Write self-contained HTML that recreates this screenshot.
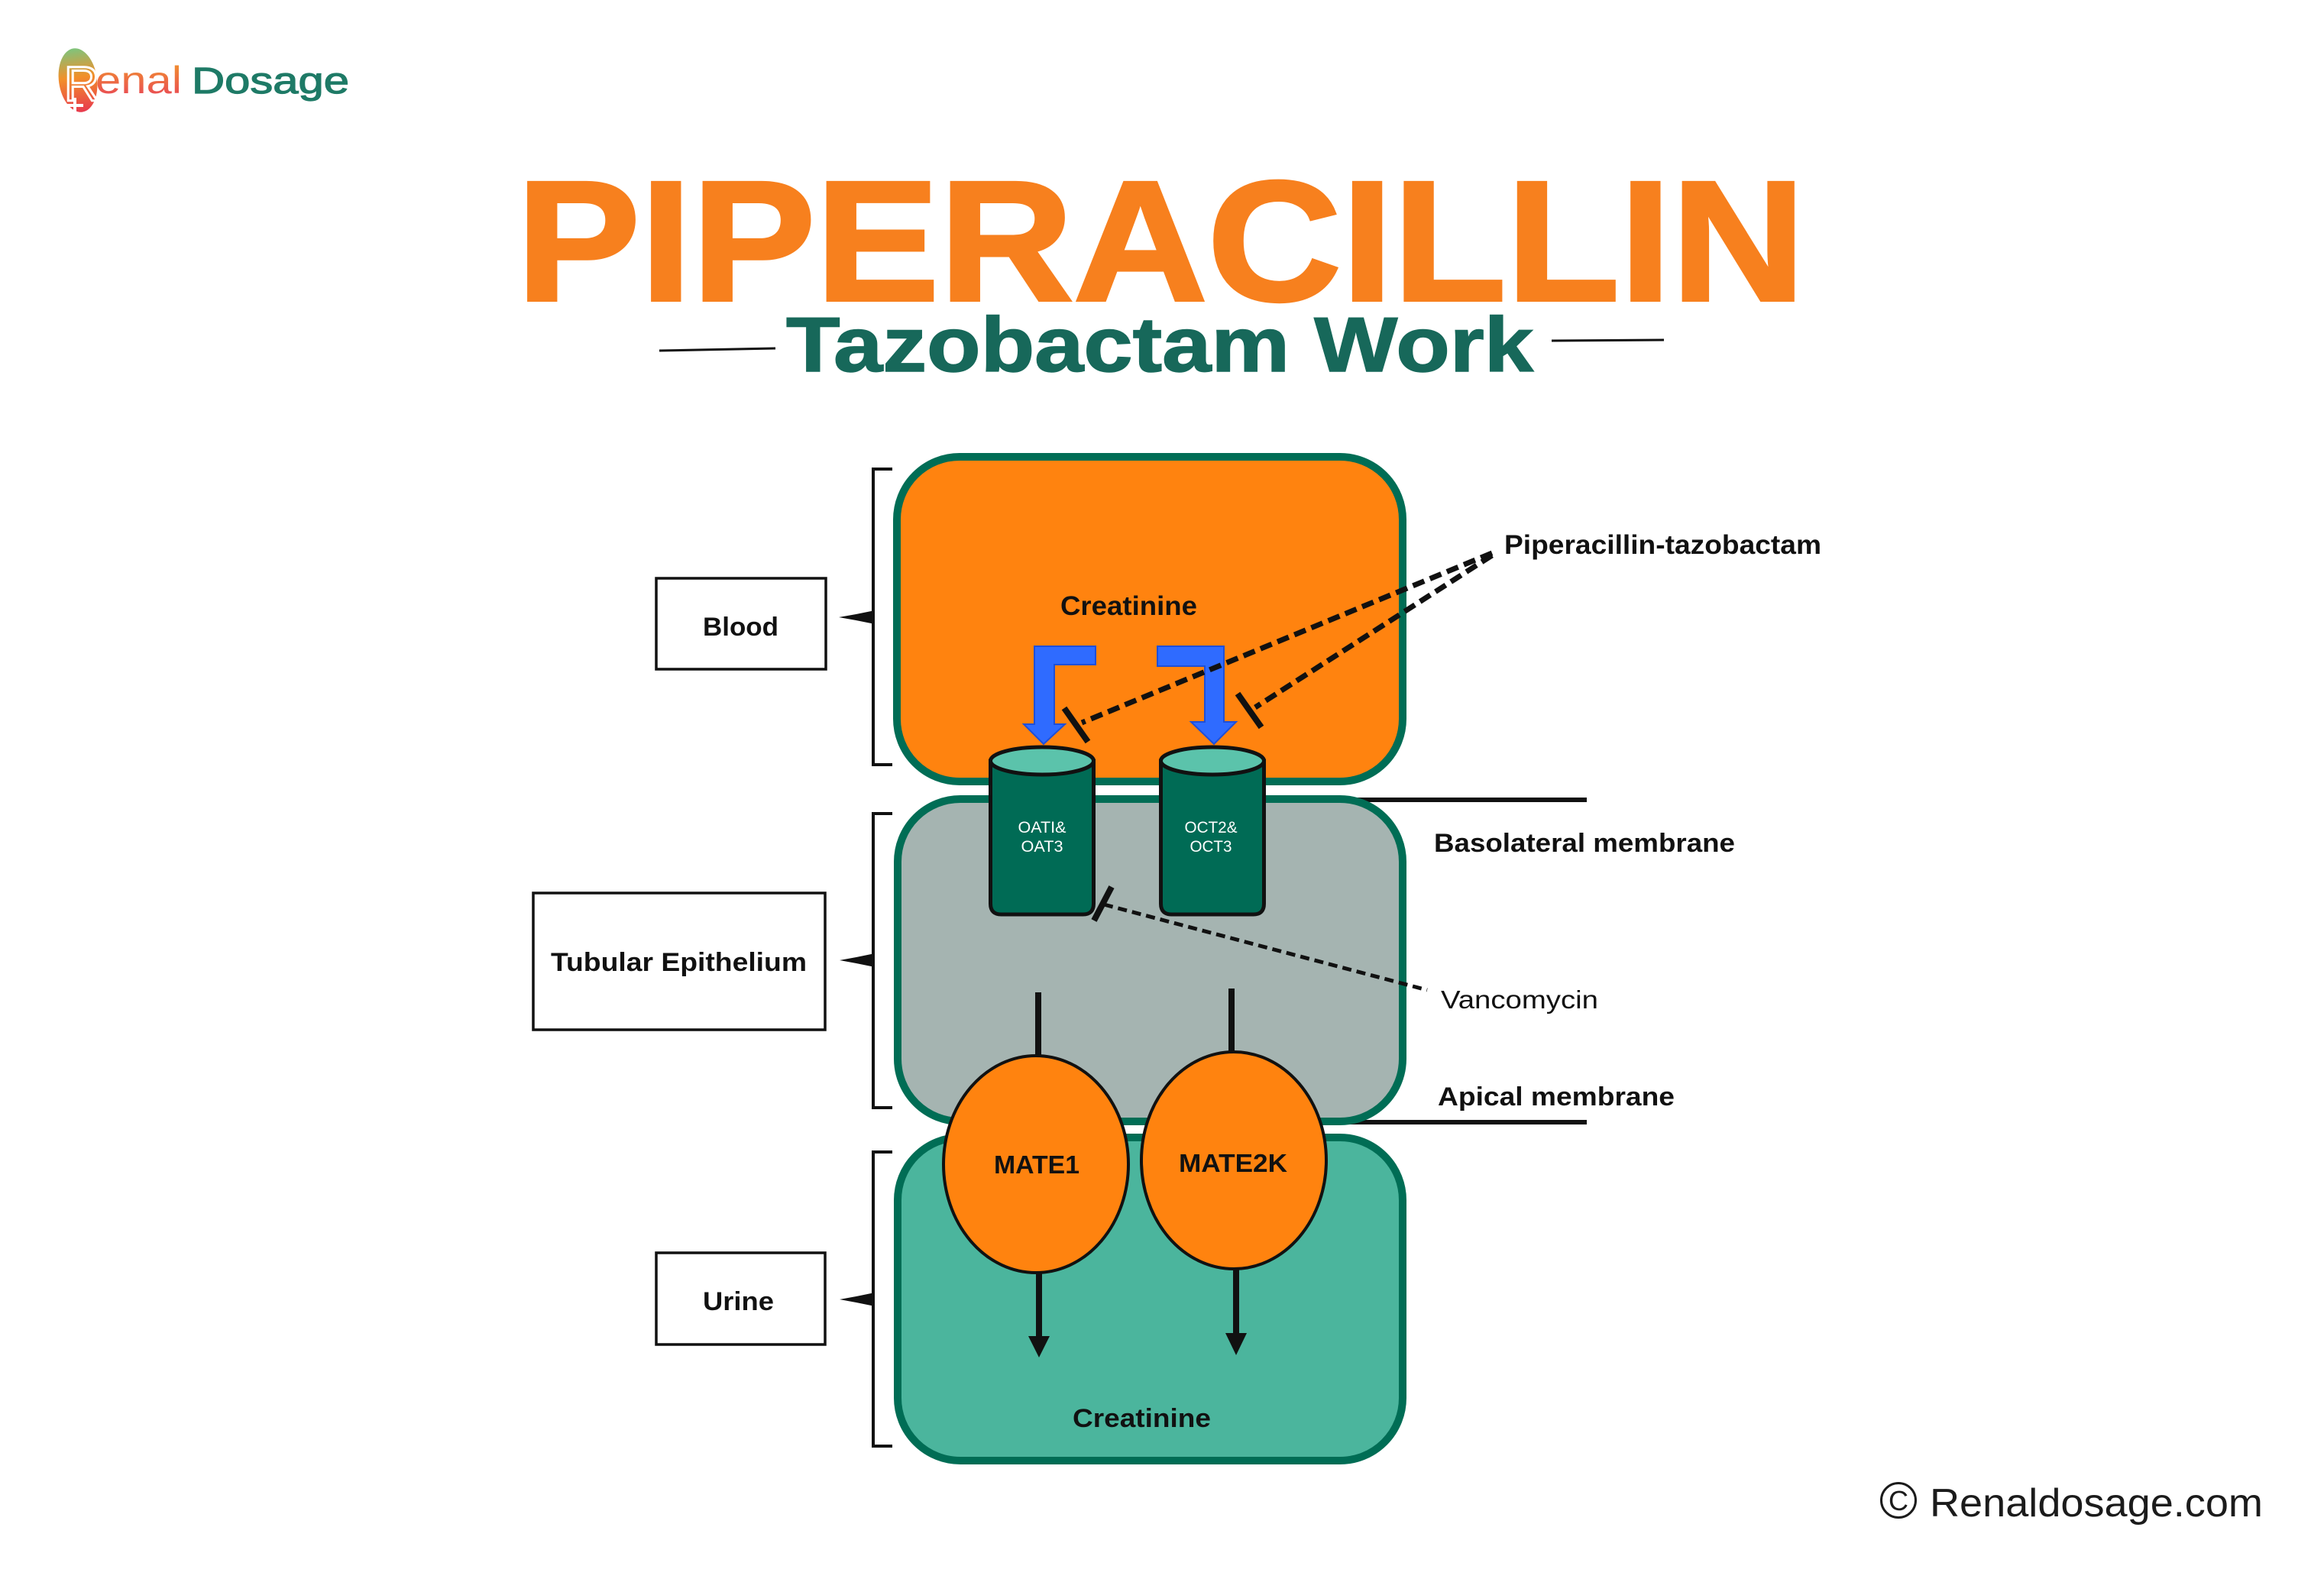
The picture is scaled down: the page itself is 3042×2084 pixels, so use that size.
<!DOCTYPE html>
<html>
<head>
<meta charset="utf-8">
<style>
  html, body { margin:0; padding:0; background:#ffffff; }
  body { width:3042px; height:2084px; overflow:hidden; }
  svg { display:block; }
  text { font-family: "Liberation Sans", "DejaVu Sans", sans-serif; }
</style>
</head>
<body>
<svg width="3042" height="2084" viewBox="0 0 3042 2084" xmlns="http://www.w3.org/2000/svg">
  <defs>
    <linearGradient id="ovalGrad" x1="0" y1="0" x2="0" y2="1">
      <stop offset="0" stop-color="#7FC47C"/>
      <stop offset="0.45" stop-color="#F2902A"/>
      <stop offset="1" stop-color="#E83A4E"/>
    </linearGradient>
    <linearGradient id="enalGrad" x1="0" y1="0" x2="0" y2="1">
      <stop offset="0" stop-color="#F29A2A"/>
      <stop offset="1" stop-color="#E8405A"/>
    </linearGradient>
  </defs>

  <!-- ===== Logo ===== -->
  <ellipse cx="102" cy="105" rx="25" ry="42" transform="rotate(-8 102 105)" fill="url(#ovalGrad)"/>
  <text x="84" y="132" font-size="64" fill="none" stroke="#ffffff" stroke-width="3">R</text>
  <rect x="87" y="136" width="22" height="4" fill="#ffffff"/>
  <rect x="96" y="128" width="4" height="20" fill="#ffffff"/>
  <text x="125" y="122" font-size="50" fill="url(#enalGrad)" textLength="113" lengthAdjust="spacingAndGlyphs">enal</text>
  <text x="251" y="122" font-size="48" fill="#1E7A66" stroke="#1E7A66" stroke-width="1.2" textLength="206" lengthAdjust="spacingAndGlyphs">Dosage</text>

  <!-- ===== Title ===== -->
  <text x="676" y="393" font-size="224" font-weight="bold" fill="#F7801E" stroke="#F7801E" stroke-width="4" textLength="1687" lengthAdjust="spacingAndGlyphs">PIPERACILLIN</text>
  <text x="1029" y="486" font-size="101" font-weight="bold" fill="#17685A" stroke="#17685A" stroke-width="1.5" textLength="978" lengthAdjust="spacingAndGlyphs">Tazobactam Work</text>
  <line x1="863" y1="459" x2="1015" y2="456" stroke="#111" stroke-width="3"/>
  <line x1="2031" y1="446" x2="2178" y2="445" stroke="#111" stroke-width="3"/>

  <!-- ===== Membrane lines (behind boxes) ===== -->
  <line x1="1760" y1="1047" x2="2077" y2="1047" stroke="#111" stroke-width="6"/>
  <line x1="1760" y1="1469" x2="2077" y2="1469" stroke="#111" stroke-width="6"/>

  <!-- ===== Compartment boxes ===== -->
  <rect x="1174" y="598" width="662" height="425" rx="82" ry="82" fill="#FF830F" stroke="#006D55" stroke-width="10"/>
  <rect x="1175" y="1046" width="661" height="422" rx="82" ry="82" fill="#A5B4B1" stroke="#006D55" stroke-width="10"/>
  <rect x="1175" y="1489" width="661" height="423" rx="82" ry="82" fill="#4BB59D" stroke="#006D55" stroke-width="10"/>

  <!-- ===== Brackets ===== -->
  <g stroke="#111" stroke-width="4" fill="none">
    <polyline points="1168,614 1143,614 1143,1001 1168,1001"/>
    <polyline points="1168,1065 1143,1065 1143,1450 1168,1450"/>
    <polyline points="1168,1508 1143,1508 1143,1893 1168,1893"/>
  </g>
  <g fill="#111">
    <path d="M1098,808 Q1122,804 1145,799 L1145,817 Q1122,812 1098,808 Z"/>
    <path d="M1099,1257 Q1122,1253 1145,1248 L1145,1266 Q1122,1261 1099,1257 Z"/>
    <path d="M1099,1701 Q1122,1697 1145,1692 L1145,1710 Q1122,1705 1099,1701 Z"/>
  </g>

  <!-- ===== Label boxes ===== -->
  <g fill="#ffffff" stroke="#111" stroke-width="3.5">
    <rect x="859" y="757" width="222" height="119"/>
    <rect x="698" y="1169" width="382" height="179"/>
    <rect x="859" y="1640" width="221" height="120"/>
  </g>
  <g font-weight="bold" fill="#111" font-size="34">
    <text x="920" y="832" textLength="99" lengthAdjust="spacingAndGlyphs">Blood</text>
    <text x="721" y="1271" textLength="335" lengthAdjust="spacingAndGlyphs">Tubular Epithelium</text>
    <text x="920" y="1715" textLength="93" lengthAdjust="spacingAndGlyphs">Urine</text>
  </g>

  <!-- ===== Creatinine labels ===== -->
  <text x="1388" y="805" font-size="35" font-weight="bold" fill="#111" textLength="179" lengthAdjust="spacingAndGlyphs">Creatinine</text>
  <text x="1404" y="1868" font-size="34" font-weight="bold" fill="#111" textLength="181" lengthAdjust="spacingAndGlyphs">Creatinine</text>

  <!-- ===== Blue arrows ===== -->
  <g fill="#2F6BFF" stroke="#1E4FD8" stroke-width="2" stroke-linejoin="miter">
    <polygon points="1354,846 1434,846 1434,870 1380,870 1380,948 1394,948 1366,974 1340,948 1354,948"/>
    <polygon points="1515,846 1602,846 1602,945 1618,945 1589,974 1559,945 1577,945 1577,872 1515,872"/>
  </g>

  <!-- ===== Transporter cylinders ===== -->
  <g stroke="#111" stroke-width="5">
    <path d="M1296.5,996 L1296.5,1183 Q1296.5,1197 1310.5,1197 L1417.5,1197 Q1431.5,1197 1431.5,1183 L1431.5,996 Z" fill="#006B55"/>
    <ellipse cx="1364" cy="996" rx="67.5" ry="18" fill="#5BC3AB"/>
    <path d="M1519.5,996 L1519.5,1183 Q1519.5,1197 1533.5,1197 L1640.5,1197 Q1654.5,1197 1654.5,1183 L1654.5,996 Z" fill="#006B55"/>
    <ellipse cx="1587" cy="996" rx="67.5" ry="18" fill="#5BC3AB"/>
  </g>
  <g fill="#ffffff" font-size="21" text-anchor="middle">
    <text x="1364" y="1090" textLength="63" lengthAdjust="spacingAndGlyphs">OATI&amp;</text>
    <text x="1364" y="1115" textLength="55" lengthAdjust="spacingAndGlyphs">OAT3</text>
    <text x="1585" y="1090" textLength="69" lengthAdjust="spacingAndGlyphs">OCT2&amp;</text>
    <text x="1585" y="1115" textLength="55" lengthAdjust="spacingAndGlyphs">OCT3</text>
  </g>

  <!-- ===== Vertical lines into MATE ===== -->
  <line x1="1359" y1="1299" x2="1359" y2="1386" stroke="#111" stroke-width="8"/>
  <line x1="1612" y1="1294" x2="1612" y2="1380" stroke="#111" stroke-width="8"/>

  <!-- ===== MATE ellipses ===== -->
  <ellipse cx="1356" cy="1524" rx="121" ry="142" fill="#FF830F" stroke="#111" stroke-width="4"/>
  <ellipse cx="1615" cy="1519" rx="121" ry="142" fill="#FF830F" stroke="#111" stroke-width="4"/>
  <text x="1301" y="1536" font-size="33" font-weight="bold" fill="#111" textLength="112" lengthAdjust="spacingAndGlyphs">MATE1</text>
  <text x="1543" y="1534" font-size="33" font-weight="bold" fill="#111" textLength="142" lengthAdjust="spacingAndGlyphs">MATE2K</text>

  <!-- ===== Down arrows to urine ===== -->
  <line x1="1360" y1="1666" x2="1360" y2="1752" stroke="#111" stroke-width="8"/>
  <polygon points="1346,1749 1374,1749 1360,1777" fill="#111"/>
  <line x1="1618" y1="1660" x2="1618" y2="1748" stroke="#111" stroke-width="8"/>
  <polygon points="1604,1745 1632,1745 1618,1774" fill="#111"/>

  <!-- ===== Inhibition dashed lines ===== -->
  <g stroke="#111" fill="none">
    <line x1="1953" y1="724" x2="1416" y2="946" stroke-width="7" stroke-dasharray="16 8"/>
    <line x1="1953" y1="727" x2="1643" y2="926" stroke-width="7" stroke-dasharray="16 8"/>
    <line x1="1393" y1="927" x2="1424" y2="971" stroke-width="8"/>
    <line x1="1620" y1="908" x2="1651" y2="952" stroke-width="8"/>
    <line x1="1445" y1="1184" x2="1868" y2="1296" stroke-width="5" stroke-dasharray="12 7"/>
    <line x1="1455" y1="1161" x2="1432" y2="1205" stroke-width="8"/>
  </g>

  <!-- ===== Right labels ===== -->
  <text x="1969" y="725" font-size="35" font-weight="bold" fill="#111" textLength="415" lengthAdjust="spacingAndGlyphs">Piperacillin-tazobactam</text>
  <text x="1877" y="1115" font-size="34" font-weight="bold" fill="#111" textLength="394" lengthAdjust="spacingAndGlyphs">Basolateral membrane</text>
  <text x="1886" y="1320" font-size="33" fill="#111" textLength="206" lengthAdjust="spacingAndGlyphs">Vancomycin</text>
  <text x="1882" y="1447" font-size="34" font-weight="bold" fill="#111" textLength="310" lengthAdjust="spacingAndGlyphs">Apical membrane</text>

  <!-- ===== Copyright ===== -->
  <circle cx="2485" cy="1964" r="22.5" fill="none" stroke="#1b1b1b" stroke-width="3"/>
  <text x="2485" y="1977" font-size="36" fill="#1b1b1b" text-anchor="middle">C</text>
  <text x="2526" y="1985" font-size="52" fill="#1b1b1b" textLength="436" lengthAdjust="spacingAndGlyphs">Renaldosage.com</text>
</svg>
</body>
</html>
